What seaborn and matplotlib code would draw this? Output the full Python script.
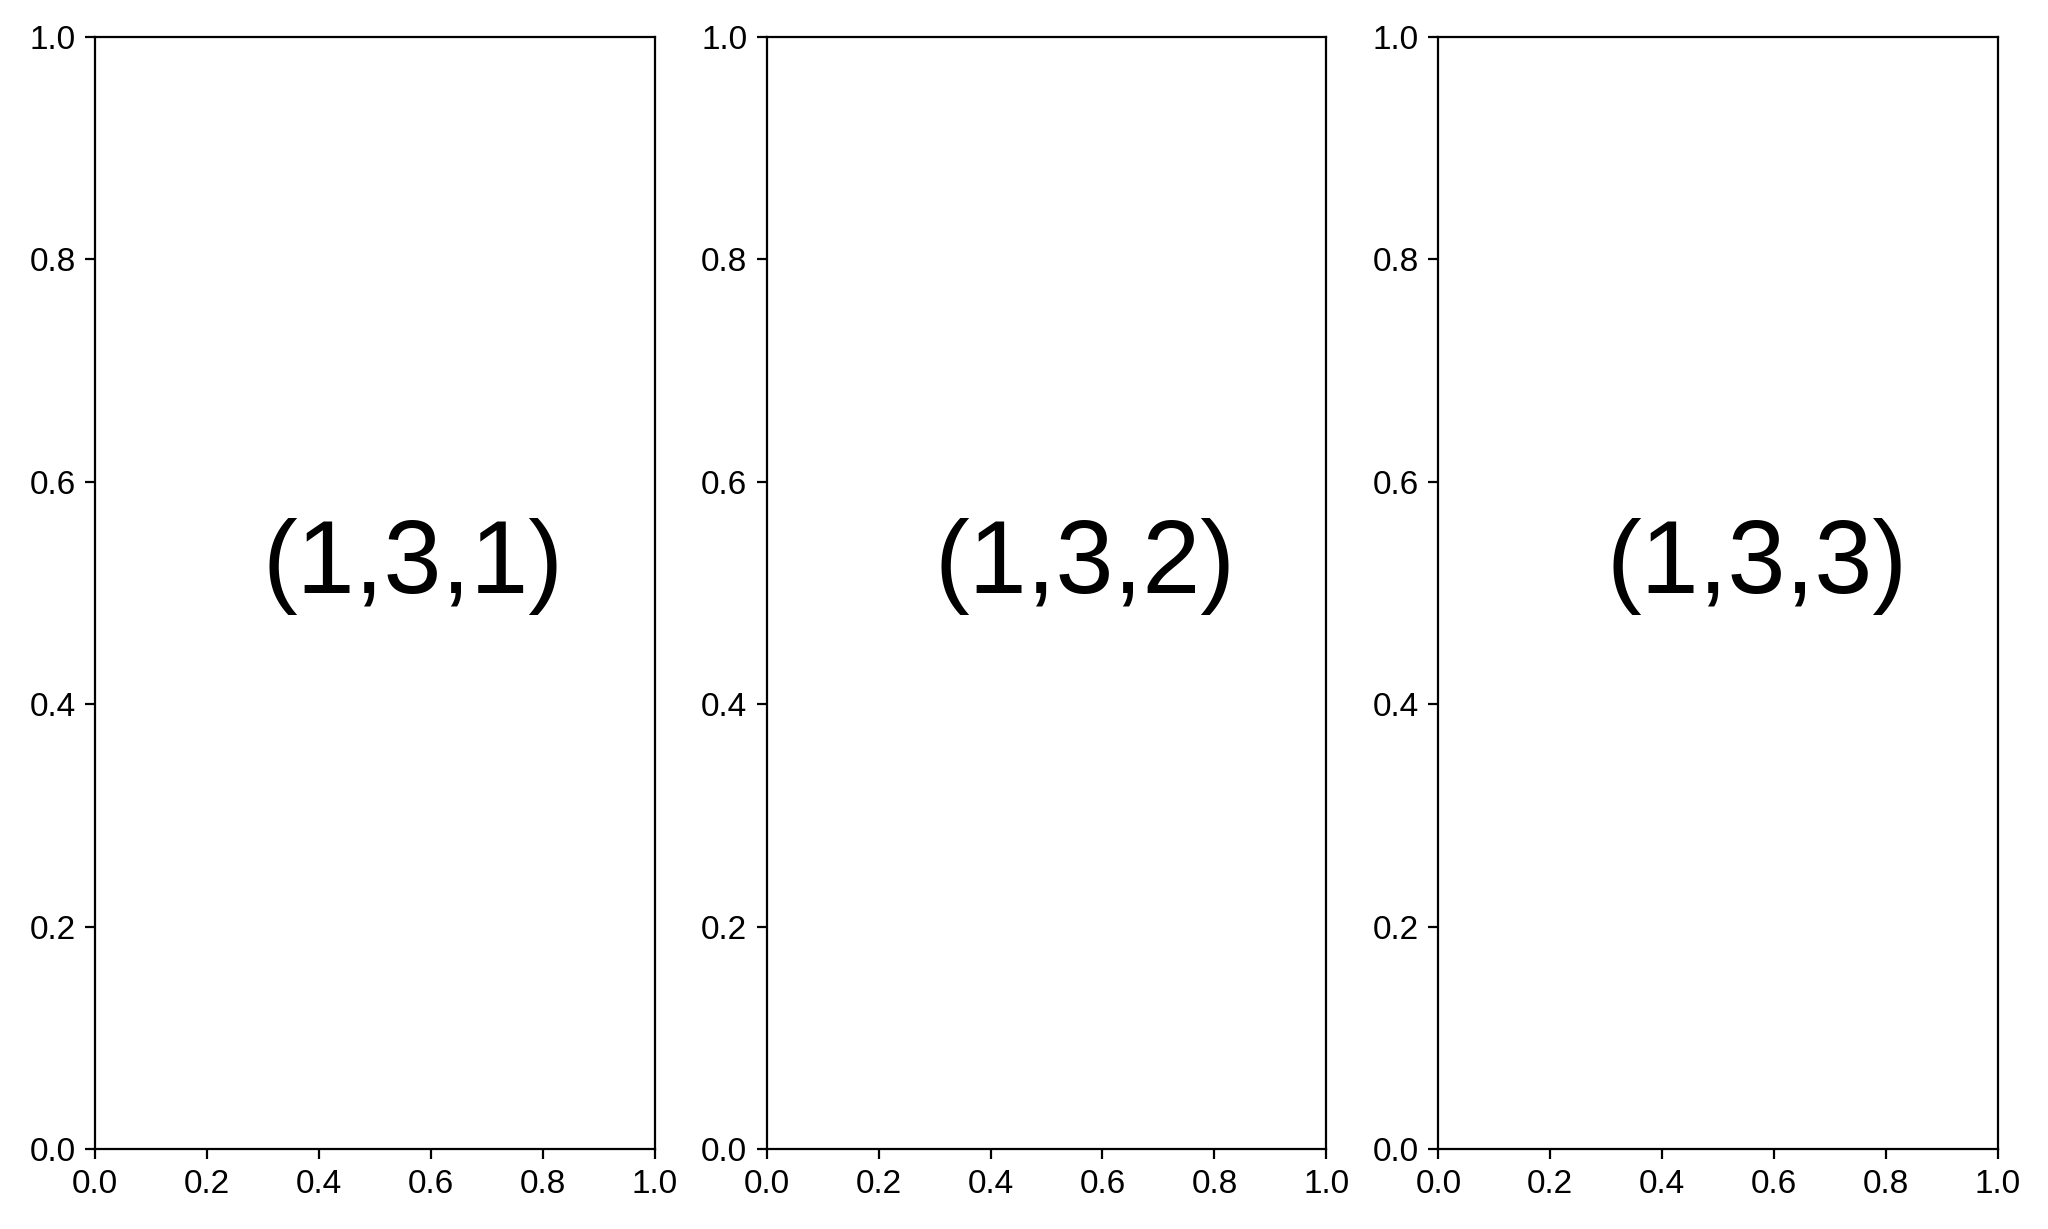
import matplotlib
matplotlib.use("Agg")
import matplotlib.pyplot as plt
import seaborn as sns

# subplot grid and the labels written in each panel
n_rows = 1
n_cols = 3
panel_labels = ["(%d,%d,%d)" % (n_rows, n_cols, i) for i in range(1, n_rows * n_cols + 1)]
axis_limits = [0.0, 1.0]


def main():
    sns.set_style("ticks", {
        "axes.edgecolor": "black",
        "xtick.color": "black",
        "ytick.color": "black",
        "text.color": "black",
    })
    plt.rcParams["font.family"] = ["Liberation Sans", "DejaVu Sans"]
    plt.rcParams["xtick.labelsize"] = 12
    plt.rcParams["ytick.labelsize"] = 12

    fig = plt.figure(figsize=(10.24, 6.145), dpi=200)
    for i, label in enumerate(panel_labels, start=1):
        ax = fig.add_subplot(n_rows, n_cols, i)
        ax.set_xlim(axis_limits)
        ax.set_ylim(axis_limits)
        ax.text(0.3, 0.5, label, fontsize=37.5, ha="left")

    fig.subplots_adjust(left=0.0464, right=0.9756, bottom=0.065, top=0.970, wspace=0.2)
    fig.savefig("out.png", dpi=200)
    plt.close(fig)


if __name__ == "__main__":
    main()
